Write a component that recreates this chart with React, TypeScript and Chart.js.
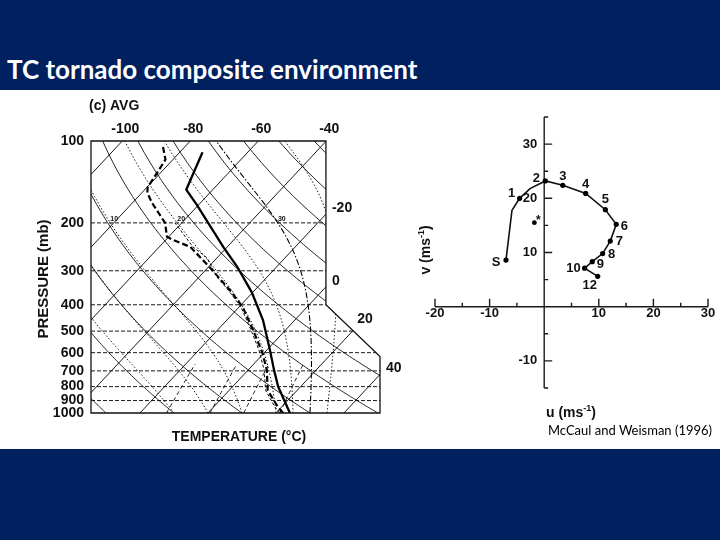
import React, { useEffect, useRef } from "react";
import { Chart, registerables } from "chart.js";

Chart.register(...registerables);

// ---------------- text ----------------
const titleText = "TC tornado composite environment";
const creditText = "McCaul and Weisman (1996)";
const panelText = "(c) AVG";
const pressureAxisTitle = "PRESSURE (mb)";
const temperatureAxisTitle = "TEMPERATURE (°C)";

// ---------------- skew-T diagram ----------------
const pressureTicks = [100, 200, 300, 400, 500, 600, 700, 800, 900, 1000];
const isobars = [200, 300, 400, 500, 600, 700, 800, 900];
const topTemperatureTicks = [-100, -80, -60, -40];
const sideTemperatureTicks = [-20, 0, 20, 40];
const isotherms = [-100, -80, -60, -40, -20, 0, 20, 40];
const dryAdiabatsC = [-30, -10, 10, 30, 50, 70, 90, 110, 130, 150, 170];
const moistAdiabatsC = [-10, 0, 10, 20, 25, 30, 35];
const moistLabelled = [10, 20, 30];
const mixingRatios = [1.5, 4, 8, 16];

// composite sounding
const tempP = [1000, 875, 800, 700, 575, 455, 360, 290, 245, 172, 151, 110];
const tempC = [24.1, 17.7, 13.4, 7.9, 0.1, -9.4, -20.3, -31.6, -41.2, -60.4, -67.8, -73.3];
const dewP = [1000, 950, 825, 695, 600, 495, 408, 353, 291, 245, 231, 225, 200, 169, 155, 148, 131, 117, 103];
const dewC = [22.1, 18.9, 11.3, 5.5, -0.6, -9.6, -18.9, -27.4, -39.6, -50.9, -57.9, -60.5, -64.9, -74.2, -78.4, -79.8, -81.0, -82.2, -87.2];
const thinP = [1000, 950, 825, 695, 587, 495, 408, 353, 316, 269, 245, 200];
const thinC = [21.2, 18.0, 10.7, 4.7, -2.3, -10.2, -19.4, -27.9, -34.8, -42.9, -50.1, -62.0];

// ---------------- hodograph ----------------
const hodoU = [-7.0, -5.9, -4.5, -2.6, 0.2, 3.4, 7.6, 11.2, 13.2, 12.1, 10.7, 8.8, 7.4, 9.8];
const hodoV = [8.6, 17.8, 20.0, 21.8, 23.2, 22.4, 20.9, 17.9, 15.2, 12.1, 9.8, 8.3, 7.1, 5.6];
const hodoLabels = ["S", "", "1", "", "2", "3", "4", "5", "6", "7", "8", "9", "10", "12"];
const stormU = [-1.8];
const stormV = [15.5];
const uTickLabels = [-20, -10, 10, 20, 30];
const vTickLabels = [-10, 10, 20, 30];

// ---------------- layout / style constants ----------------
const NAVY = "#002060";
const SANS = '"Liberation Sans", Arial, Helvetica, sans-serif';
const INK = "#111";
const GRID = "#000";
const SKEW = 74.8; // deg C shift per decade of pressure
const X_MIN = -34.4;
const X_MAX = 50.6;
const NOTCH_X = 34.7;
const NOTCH_P_TOP = 400;
const NOTCH_P_BOTTOM = 620;
const U_MIN = -20, U_MAX = 30, V_MIN = -15, V_MAX = 35, TICK_STEP = 5;

const skewX = (t: number, p: number) => t + SKEW * Math.log10(1000 / p);

// thermodynamic reference lines of the diagram
function satMix(p: number, tc: number) {
  const es = 6.112 * Math.exp((17.67 * tc) / (tc + 243.5));
  return (0.622 * es) / (p - es);
}
function moistLapse(p: number, tc: number) {
  const T = tc + 273.15;
  const rs = satMix(p, tc);
  const Rd = 287.04, cp = 1005.7, Lv = 2.501e6, eps = 0.622;
  return ((Rd * T + Lv * rs) / (cp + (Lv * Lv * rs * eps) / (Rd * T * T))) / p;
}
function moistCurve(thetaW: number) {
  const out: { p: number; t: number }[] = [];
  let p = 1000, t = thetaW;
  const dp = -10;
  out.push({ p, t });
  while (p > 100) {
    const k1 = moistLapse(p, t);
    const k2 = moistLapse(p + dp / 2, t + (k1 * dp) / 2);
    t += k2 * dp;
    p += dp;
    out.push({ p, t });
  }
  return out;
}
function dryCurve(thetaC: number) {
  const out: { p: number; t: number }[] = [];
  for (let p = 1000; p >= 100; p -= 10) {
    out.push({ p, t: (thetaC + 273.15) * Math.pow(p / 1000, 0.2857) - 273.15 });
  }
  return out;
}
function mixingCurve(w: number) {
  const out: { p: number; t: number }[] = [];
  for (let p = 1000; p >= 660; p -= 20) {
    const e = (w * p) / (622 + w);
    const a = Math.log(e / 6.112);
    out.push({ p, t: (243.5 * a) / (17.67 - a) });
  }
  return out;
}

const toXY = (pts: { p: number; t: number }[]) => pts.map((d) => ({ x: skewX(d.t, d.p), y: d.p }));
const pairs = (P: number[], T: number[]) => P.map((p, i) => ({ p, t: T[i] }));

function lineDs(data: any[], color: string, width: number, dash: number[], order: number) {
  return {
    data,
    showLine: true,
    pointRadius: 0,
    borderColor: color,
    borderWidth: width,
    borderDash: dash,
    fill: false,
    tension: 0,
    clip: 0,
    order,
  };
}

function segIntersect(p1: number[], p2: number[], p3: number[], p4: number[]) {
  const d = (p2[0] - p1[0]) * (p4[1] - p3[1]) - (p2[1] - p1[1]) * (p4[0] - p3[0]);
  if (Math.abs(d) < 1e-9) return null;
  const t = ((p3[0] - p1[0]) * (p4[1] - p3[1]) - (p3[1] - p1[1]) * (p4[0] - p3[0])) / d;
  const u = ((p3[0] - p1[0]) * (p2[1] - p1[1]) - (p3[1] - p1[1]) * (p2[0] - p1[0])) / d;
  if (t < 0 || t > 1 || u < 0 || u > 1) return null;
  return [p1[0] + t * (p2[0] - p1[0]), p1[1] + t * (p2[1] - p1[1])];
}

function makeSkew(canvas: HTMLCanvasElement) {
  const moistCurves = moistAdiabatsC.map((tw) => ({ tw, pts: moistCurve(tw) }));
  const datasets: any[] = [];
  datasets.push(lineDs(toXY(pairs(tempP, tempC)), "#000", 2.3, [], 0));
  datasets.push(lineDs(toXY(pairs(dewP, dewC)), "#000", 2.2, [6, 3], 0));
  datasets.push(lineDs(toXY(pairs(thinP, thinC)), "#111", 1, [3, 2], 0));
  isobars.forEach((p) =>
    datasets.push(lineDs([{ x: X_MIN, y: p }, { x: X_MAX, y: p }], GRID, 0.9, [4, 2], 2))
  );
  isotherms.forEach((t) =>
    datasets.push(lineDs([{ x: skewX(t, 1000), y: 1000 }, { x: skewX(t, 100), y: 100 }], GRID, 0.9, [], 2))
  );
  dryAdiabatsC.forEach((th) => datasets.push(lineDs(toXY(dryCurve(th)), GRID, 0.85, [], 2)));
  moistCurves.forEach((m) =>
    datasets.push(
      lineDs(toXY(m.pts), GRID, m.tw === 30 ? 1.1 : 0.9, m.tw === 30 ? [6, 2, 1.5, 2] : [1.5, 2], 2)
    )
  );
  mixingRatios.forEach((w) => datasets.push(lineDs(toXY(mixingCurve(w)), GRID, 0.9, [4, 3], 2)));

  const decor = {
    id: "skewDecor",
    afterDatasetsDraw(chart: any) {
      const { ctx, chartArea: a } = chart;
      const xs = chart.scales.x, ys = chart.scales.y;
      const X = (v: number) => xs.getPixelForValue(v);
      const Y = (p: number) => ys.getPixelForValue(p);
      const A = [X(NOTCH_X), a.top];
      const B = [X(NOTCH_X), Y(NOTCH_P_TOP)];
      const C = [X(X_MAX), Y(NOTCH_P_BOTTOM)];
      const D = [a.right, a.bottom];
      ctx.save();
      // blank out the cut-away corner of the diagram
      ctx.fillStyle = "#fff";
      ctx.beginPath();
      ctx.moveTo(A[0], a.top - 3);
      ctx.lineTo(B[0], B[1]);
      ctx.lineTo(C[0], C[1]);
      ctx.lineTo(a.right + 4, C[1]);
      ctx.lineTo(a.right + 4, a.top - 3);
      ctx.closePath();
      ctx.fill();
      // frame
      ctx.strokeStyle = INK;
      ctx.lineWidth = 1.3;
      ctx.beginPath();
      ctx.moveTo(a.left, a.top);
      ctx.lineTo(A[0], A[1]);
      ctx.lineTo(B[0], B[1]);
      ctx.lineTo(C[0], C[1]);
      ctx.lineTo(D[0], D[1]);
      ctx.lineTo(a.left, a.bottom);
      ctx.closePath();
      ctx.stroke();

      ctx.fillStyle = INK;
      ctx.font = `bold 14px ${SANS}`;
      // pressure labels
      ctx.textAlign = "right";
      ctx.textBaseline = "middle";
      pressureTicks.forEach((p) => ctx.fillText(String(p), a.left - 7, Y(p)));
      // top temperature labels
      ctx.textAlign = "center";
      topTemperatureTicks.forEach((t) => ctx.fillText(String(t), X(skewX(t, 100)) + 3, a.top - 12));
      // side temperature labels
      const segs = [
        [A, B],
        [B, C],
        [C, D],
      ];
      sideTemperatureTicks.forEach((t) => {
        const p1 = [X(skewX(t, 1000)), Y(1000)];
        const p2 = [X(skewX(t, 100)), Y(100)];
        for (let i = 0; i < segs.length; i++) {
          const hit = segIntersect(p1, p2, segs[i][0], segs[i][1]);
          if (hit) {
            if (i === 1) {
              ctx.textAlign = "center";
              ctx.fillText(String(t), hit[0] + 12, hit[1] - 12);
            } else {
              ctx.textAlign = "left";
              ctx.fillText(String(t), hit[0] + 6, hit[1] - 6);
            }
            break;
          }
        }
      });
      // small moist adiabat labels at 200 mb
      ctx.font = `bold 7px ${SANS}`;
      ctx.textAlign = "center";
      moistCurves
        .filter((m) => moistLabelled.includes(m.tw))
        .forEach((m) => {
          const pt = m.pts.find((d) => d.p === 200);
          if (pt) ctx.fillText(String(m.tw), X(skewX(pt.t, 200)) + 4, Y(200) - 4);
        });
      // titles
      ctx.font = `bold 14px ${SANS}`;
      ctx.textAlign = "left";
      ctx.fillText(panelText, 89, 16);
      ctx.textAlign = "center";
      ctx.fillText(temperatureAxisTitle, 239, a.bottom + 24);
      ctx.save();
      ctx.translate(44, (a.top + a.bottom) / 2 + 2);
      ctx.rotate(-Math.PI / 2);
      ctx.font = `bold 15px ${SANS}`;
      ctx.fillText(pressureAxisTitle, 0, 0);
      ctx.restore();
      ctx.restore();
    },
  };

  return new Chart(canvas, {
    type: "scatter",
    data: { datasets },
    options: {
      animation: false,
      responsive: false,
      events: [],
      layout: { padding: { left: 91, right: 30, top: 51, bottom: 36 } },
      scales: {
        x: { type: "linear", min: X_MIN, max: X_MAX, display: false },
        y: { type: "logarithmic", min: 100, max: 1000, reverse: true, display: false },
      },
      plugins: { legend: { display: false }, tooltip: { enabled: false } },
    },
    plugins: [decor],
  } as any);
}

const hodoLabelOffsets: Record<string, [number, number]> = {
  S: [-10, 2],
  "1": [-8, -5],
  "2": [-9, -3],
  "3": [0, -9],
  "4": [0, -9],
  "5": [0, -10],
  "6": [8, 2],
  "7": [9, 0],
  "8": [9, 1],
  "9": [8, 3],
  "10": [-11, 0],
  "12": [-8, 9],
};

function drawUnitLabel(ctx: CanvasRenderingContext2D, prefix: string, cx: number, cy: number, rotate: boolean) {
  const main = `bold 14px ${SANS}`;
  const sup = `bold 9px ${SANS}`;
  ctx.font = main;
  const w1 = ctx.measureText(prefix).width;
  const w3 = ctx.measureText(")").width;
  ctx.font = sup;
  const w2 = ctx.measureText("-1").width;
  const total = w1 + w2 + w3;
  ctx.save();
  ctx.translate(cx, cy);
  if (rotate) ctx.rotate(-Math.PI / 2);
  ctx.textAlign = "left";
  ctx.textBaseline = "alphabetic";
  let x = -total / 2;
  const base = 5;
  ctx.font = main;
  ctx.fillText(prefix, x, base);
  x += w1;
  ctx.font = sup;
  ctx.fillText("-1", x, base - 6);
  x += w2;
  ctx.font = main;
  ctx.fillText(")", x, base);
  ctx.restore();
}

function makeHodo(canvas: HTMLCanvasElement) {
  const path = hodoU.map((u, i) => ({ x: u, y: hodoV[i] }));
  const storm = stormU.map((u, i) => ({ x: u, y: stormV[i] }));
  const decor = {
    id: "hodoDecor",
    beforeDatasetsDraw(chart: any) {
      const { ctx } = chart;
      const xs = chart.scales.x, ys = chart.scales.y;
      const x0 = xs.getPixelForValue(0), y0 = ys.getPixelForValue(0);
      ctx.save();
      ctx.strokeStyle = "#1a1a1a";
      ctx.lineWidth = 1.4;
      ctx.beginPath();
      ctx.moveTo(xs.getPixelForValue(U_MIN), y0);
      ctx.lineTo(xs.getPixelForValue(U_MAX), y0);
      ctx.moveTo(x0, ys.getPixelForValue(V_MIN));
      ctx.lineTo(x0, ys.getPixelForValue(V_MAX));
      for (let u = U_MIN; u <= U_MAX; u += TICK_STEP) {
        if (u === 0) continue;
        const x = xs.getPixelForValue(u);
        const len = u % 10 === 0 ? 8 : 4;
        ctx.moveTo(x, y0);
        ctx.lineTo(x, y0 - len);
      }
      for (let v = V_MIN; v <= V_MAX; v += TICK_STEP) {
        if (v === 0) continue;
        const y = ys.getPixelForValue(v);
        const len = v % 10 === 0 ? 8 : 4;
        ctx.moveTo(x0, y);
        ctx.lineTo(x0 + len, y);
      }
      ctx.stroke();
      ctx.restore();
    },
    afterDatasetsDraw(chart: any) {
      const { ctx } = chart;
      const xs = chart.scales.x, ys = chart.scales.y;
      const x0 = xs.getPixelForValue(0), y0 = ys.getPixelForValue(0);
      ctx.save();
      ctx.fillStyle = INK;
      ctx.font = `bold 13px ${SANS}`;
      ctx.textBaseline = "middle";
      ctx.textAlign = "center";
      uTickLabels.forEach((u) => ctx.fillText(String(u), xs.getPixelForValue(u), y0 + 7));
      ctx.textAlign = "right";
      vTickLabels.forEach((v) => ctx.fillText(String(v), x0 - 7, ys.getPixelForValue(v)));
      ctx.textAlign = "center";
      hodoLabels.forEach((lab, i) => {
        if (!lab) return;
        const off = hodoLabelOffsets[lab] || [0, -9];
        ctx.fillText(lab, xs.getPixelForValue(hodoU[i]) + off[0], ys.getPixelForValue(hodoV[i]) + off[1]);
      });
      ctx.font = `bold 12px ${SANS}`;
      storm.forEach((s) => ctx.fillText("*", xs.getPixelForValue(s.x) + 4, ys.getPixelForValue(s.y) - 2));
      drawUnitLabel(ctx, "u (ms", 161, 322, false);
      drawUnitLabel(ctx, "v (ms", 15, 160, true);
      ctx.restore();
    },
  };
  return new Chart(canvas, {
    type: "scatter",
    data: {
      datasets: [
        {
          data: path,
          showLine: true,
          borderColor: "#111",
          borderWidth: 1.6,
          tension: 0,
          pointRadius: hodoLabels.map((l) => (l ? 2.6 : 0)),
          pointBackgroundColor: "#000",
          pointBorderWidth: 0,
          clip: 0,
        },
        {
          data: storm,
          showLine: false,
          pointRadius: 2.4,
          pointBackgroundColor: "#000",
          pointBorderWidth: 0,
          clip: 0,
        },
      ],
    },
    options: {
      animation: false,
      responsive: false,
      events: [],
      layout: { padding: { left: 25, right: 12, top: 27, bottom: 61 } },
      scales: {
        x: { type: "linear", min: U_MIN, max: U_MAX, display: false },
        y: { type: "linear", min: V_MIN, max: V_MAX, display: false },
      },
      plugins: { legend: { display: false }, tooltip: { enabled: false } },
    },
    plugins: [decor],
  } as any);
}

export default function App() {
  const skewRef = useRef<HTMLCanvasElement>(null);
  const hodoRef = useRef<HTMLCanvasElement>(null);
  useEffect(() => {
    const c1 = makeSkew(skewRef.current as HTMLCanvasElement);
    const c2 = makeHodo(hodoRef.current as HTMLCanvasElement);
    return () => {
      c1.destroy();
      c2.destroy();
    };
  }, []);
  return (
    <div style={{ position: "absolute", left: 0, top: 0, width: 720, height: 540, background: NAVY, overflow: "hidden" }}>
      <div
        style={{
          position: "absolute",
          left: 7,
          top: 56,
          color: "#fff",
          font: "700 26px Lato, sans-serif",
          lineHeight: "26px",
          whiteSpace: "nowrap",
        }}
      >
        {titleText}
      </div>
      <div style={{ position: "absolute", left: 0, top: 90, width: 720, height: 359, background: "#fff" }} />
      <canvas
        ref={skewRef}
        width={410}
        height={359}
        style={{ position: "absolute", left: 0, top: 90, width: 410, height: 359 }}
      />
      <canvas
        ref={hodoRef}
        width={310}
        height={359}
        style={{ position: "absolute", left: 410, top: 90, width: 310, height: 359 }}
      />
      <div
        style={{
          position: "absolute",
          left: 548,
          top: 424,
          color: "#000",
          font: "400 13px Lato, sans-serif",
          lineHeight: "13px",
          whiteSpace: "nowrap",
        }}
      >
        {creditText}
      </div>
    </div>
  );
}
